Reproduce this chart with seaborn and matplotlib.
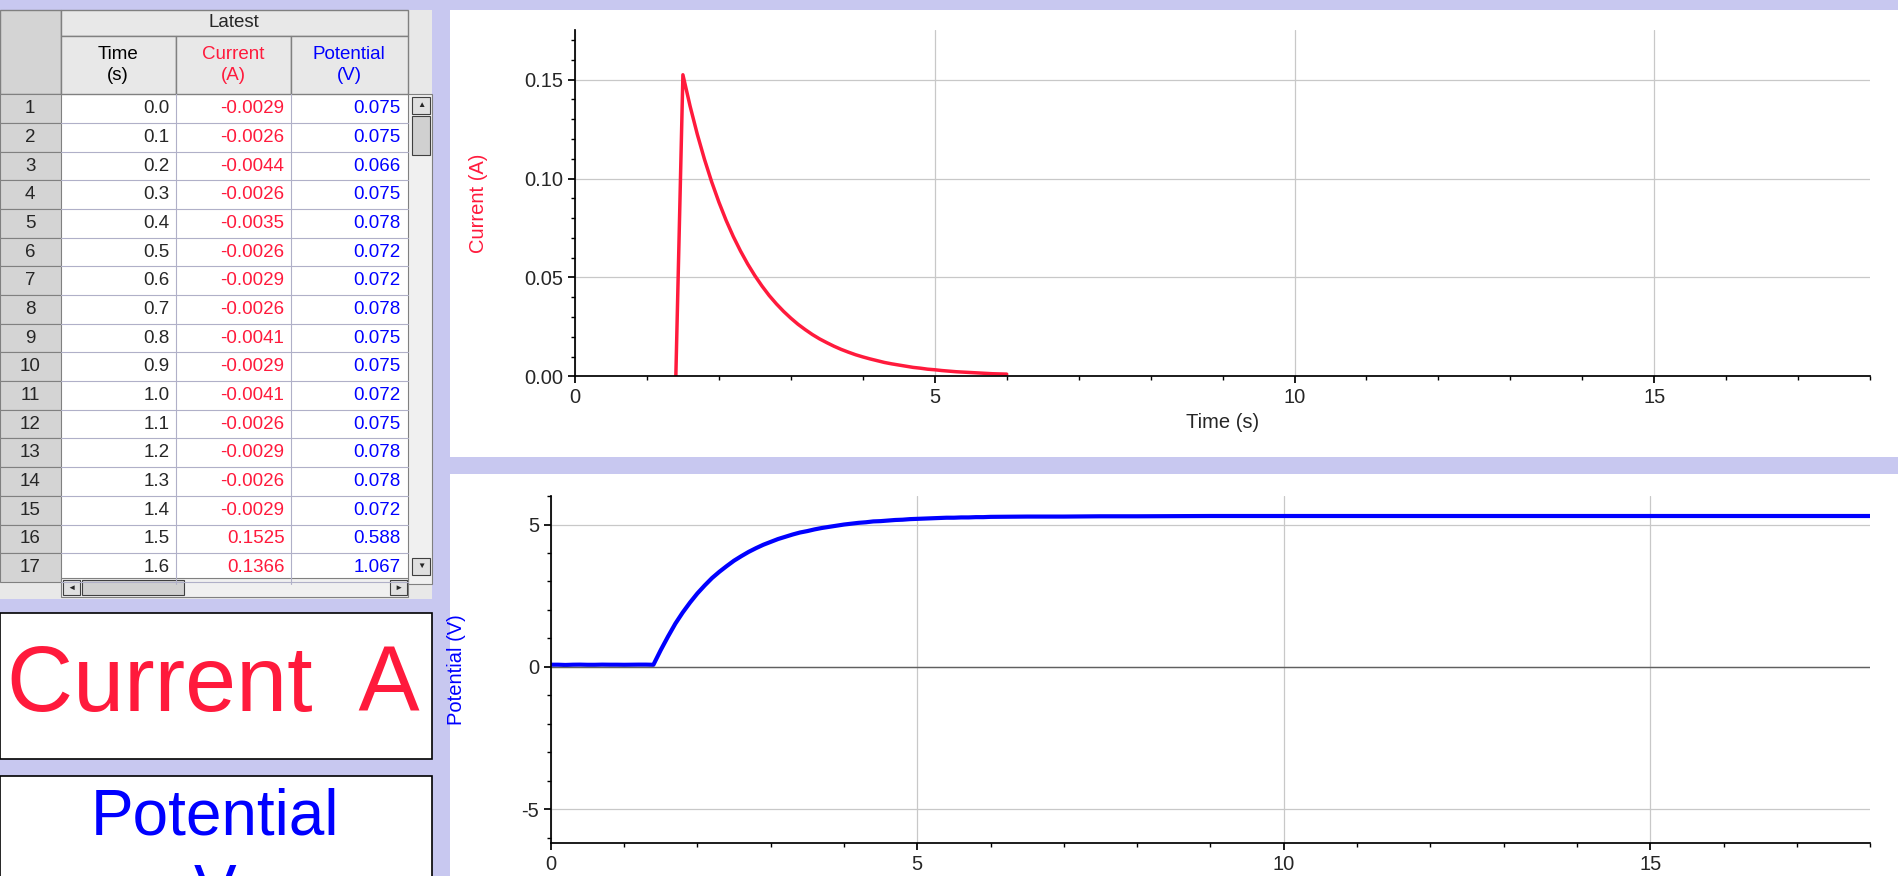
import numpy as np
import matplotlib
matplotlib.use("Agg")
import matplotlib.pyplot as plt
import seaborn as sns
from matplotlib.patches import Rectangle
from matplotlib.ticker import MultipleLocator

sns.set_theme(style="white")
plt.rcParams['font.family'] = ['Liberation Sans', 'DejaVu Sans']
plt.rcParams['axes.unicode_minus'] = False

# ---- data ----
cur_time = [0.0,0.1,0.2,0.3,0.4,0.5,0.6,0.7,0.8,0.9,1.0,1.1,1.2,1.3,1.4,
            1.5,1.6,1.7,1.8,1.9,2.0,2.1,2.2,2.3,2.4,2.5,2.6,2.7,2.8,2.9,3.0,
            3.1,3.2,3.3,3.4,3.5,3.6,3.7,3.8,3.9,4.0,4.1,4.2,4.3,4.4,4.5,
            4.6,4.7,4.8,4.9,5.0,5.1,5.2,5.3,5.4,5.5,5.6,5.7,5.8,5.9,6.0]
current = [-0.0029,-0.0026,-0.0044,-0.0026,-0.0035,-0.0026,-0.0029,-0.0026,-0.0041,-0.0029,
           -0.0041,-0.0026,-0.0029,-0.0026,-0.0029,
           0.1525,0.1366,0.1224,0.1097,0.0983,0.0881,0.0789,0.0707,0.0634,0.0568,0.0509,
           0.0456,0.0408,0.0366,0.0328,0.0294,0.0263,0.0236,0.0211,0.0189,0.0170,
           0.0152,0.0136,0.0122,0.0109,0.0098,0.0088,0.0079,0.0070,0.0063,0.0057,
           0.0051,0.0045,0.0041,0.0036,0.0033,0.0029,0.0026,0.0023,0.0021,0.0019,
           0.0017,0.0015,0.0013,0.0012,0.0011]
pot_time = cur_time + [6.5,7.0,7.5,8.0,9.0,10.0,11.0,12.0,13.0,14.0,15.0,16.0,17.0,18.0]
potential = [0.075,0.075,0.066,0.075,0.078,0.072,0.072,0.078,0.075,0.075,0.072,0.075,0.078,0.078,0.072,
             0.588,1.067,1.52,1.91,2.26,2.58,2.86,3.12,3.34,3.54,3.73,3.89,4.04,4.17,4.29,4.39,
             4.49,4.57,4.65,4.72,4.77,4.83,4.88,4.92,4.96,5.00,5.03,5.06,5.08,5.11,5.12,
             5.14,5.16,5.17,5.19,5.20,5.21,5.22,5.23,5.24,5.24,5.25,5.25,5.26,5.26,5.27,
             5.28,5.28,5.29,5.29,5.30,5.30,5.30,5.30,5.30,5.30,5.30,5.30,5.30,5.30]
tbl_time = ["0.0","0.1","0.2","0.3","0.4","0.5","0.6","0.7","0.8","0.9","1.0","1.1","1.2","1.3","1.4","1.5","1.6"]
tbl_current = ["-0.0029","-0.0026","-0.0044","-0.0026","-0.0035","-0.0026","-0.0029","-0.0026","-0.0041",
               "-0.0029","-0.0041","-0.0026","-0.0029","-0.0026","-0.0029","0.1525","0.1366"]
tbl_potential = ["0.075","0.075","0.066","0.075","0.078","0.072","0.072","0.078","0.075","0.075",
                 "0.072","0.075","0.078","0.078","0.072","0.588","1.067"]

RED = "#ff1a3c"
BLUE = "#0000ff"
BG = "#c8c8f0"

W, H = 1568, 724
fig = plt.figure(figsize=(18.98, 8.76), dpi=100)
fig.patch.set_facecolor(BG)
bg = fig.add_axes([0, 0, 1, 1])
bg.set_xlim(0, W); bg.set_ylim(H, 0); bg.axis("off")

def rect(x0, y0, x1, y1, fc="white", ec="none", lw=1, z=1):
    bg.add_patch(Rectangle((x0, y0), x1 - x0, y1 - y0, facecolor=fc, edgecolor=ec, lw=lw, zorder=z))

rect(372, 8, 1568, 378)
rect(372, 392, 1568, 724)
rect(0, 8, 357, 495, fc="#e8e8e8")
rect(50, 78, 337, 483, fc="white")
rect(0, 8, 50, 78, fc="#d4d4d4", ec="#808080")
rect(50, 8, 337, 30, fc="#e8e8e8", ec="#808080")
bg.text(193, 19, "Latest", ha="center", va="center", fontsize=13.5)
cols = [(50, 145, "Time\n(s)", "black"), (145, 240, "Current\n(A)", RED), (240, 337, "Potential\n(V)", BLUE)]
for x0, x1, lab, c in cols:
    rect(x0, 30, x1, 78, fc="#e8e8e8", ec="#808080")
    bg.text((x0 + x1) / 2, 54, lab, ha="center", va="center", fontsize=13.5, color=c, linespacing=1.3)
rh = 23.7
for i in range(17):
    y0 = 78 + i * rh
    y1 = min(y0 + rh, 483)
    rect(0, y0, 50, y1, fc="#d4d4d4", ec="#808080", lw=0.8)
    bg.plot([50, 337], [y1, y1], color="#b0b0c8", lw=0.8, zorder=2)
    yc = y0 + rh / 2
    bg.text(25, yc, str(i + 1), ha="center", va="center", fontsize=13.5, clip_on=True)
    if yc < 480:
        bg.text(140, yc, tbl_time[i], ha="right", va="center", fontsize=13.5)
        bg.text(235, yc, tbl_current[i], ha="right", va="center", fontsize=13.5, color=RED)
        bg.text(331, yc, tbl_potential[i], ha="right", va="center", fontsize=13.5, color=BLUE)
for xv in [145, 240]:
    bg.plot([xv, xv], [78, 483], color="#b0b0c8", lw=0.8, zorder=2)
rect(337, 78, 357, 483, fc="#f0f0f0", ec="#808080", lw=0.8)
rect(340, 80, 355, 94, fc="#e0e0e0", ec="#404040", lw=0.8)
rect(340, 96, 355, 128, fc="#d0d0d0", ec="#404040", lw=0.8)
rect(340, 461, 355, 475, fc="#e0e0e0", ec="#404040", lw=0.8)
rect(50, 478, 337, 493, fc="#f0f0f0", ec="#808080", lw=0.8)
rect(52, 479, 66, 492, fc="#e0e0e0", ec="#404040", lw=0.8)
rect(68, 479, 152, 492, fc="#d0d0d0", ec="#404040", lw=0.8)
rect(322, 479, 336, 492, fc="#e0e0e0", ec="#404040", lw=0.8)
bg.text(348, 87, "▲", ha="center", va="center", fontsize=6)
bg.text(348, 468, "▼", ha="center", va="center", fontsize=6)
bg.text(59, 486, "◄", ha="center", va="center", fontsize=6)
bg.text(329, 486, "►", ha="center", va="center", fontsize=6)
rect(0, 507, 357, 627, ec="black", lw=1.2)
bg.text(176, 568, "Current  A", ha="center", va="center", fontsize=66, color=RED)
rect(0, 641, 357, 730, ec="black", lw=1.2)
bg.text(178, 676, "Potential", ha="center", va="center", fontsize=46, color=BLUE)
bg.text(178, 738, "V", ha="center", va="center", fontsize=46, color=BLUE, clip_on=False)

def style(ax):
    ax.set_facecolor("white")
    ax.grid(True, color="#c8c8c8", lw=0.9)
    for s in ax.spines.values():
        s.set_visible(False)
    ax.spines["left"].set_visible(True); ax.spines["bottom"].set_visible(True)
    ax.spines["left"].set_color("black"); ax.spines["bottom"].set_color("black")
    ax.tick_params(which="both", direction="out", length=5, color="black", labelsize=14.5,
                   left=True, bottom=True)
    ax.tick_params(which="minor", length=3)
    ax.xaxis.set_major_locator(MultipleLocator(5))
    ax.xaxis.set_minor_locator(MultipleLocator(1))

ax1 = fig.add_axes([475 / W, 1 - 311 / H, 1070 / W, 286 / H])
sns.lineplot(x=cur_time, y=current, ax=ax1, color=RED, lw=2.5)
ax1.set_xlim(0, 18); ax1.set_ylim(0, 0.175)
style(ax1)
ax1.yaxis.set_major_locator(MultipleLocator(0.05))
ax1.yaxis.set_minor_locator(MultipleLocator(0.01))
ax1.yaxis.set_major_formatter(matplotlib.ticker.FormatStrFormatter("%.2f"))
ax1.set_xlabel("Time (s)", fontsize=14.5)
ax1.set_ylabel("Current (A)", fontsize=14.5, color=RED, labelpad=26)

ax2 = fig.add_axes([455 / W, 1 - 697 / H, 1090 / W, 287 / H])
sns.lineplot(x=pot_time, y=potential, ax=ax2, color=BLUE, lw=3)
ax2.set_xlim(0, 18); ax2.set_ylim(-6.2, 6)
style(ax2)
ax2.axhline(0, color="#606060", lw=1)
ax2.yaxis.set_major_locator(MultipleLocator(5))
ax2.yaxis.set_minor_locator(MultipleLocator(1))
ax2.set_ylabel("Potential (V)", fontsize=14.5, color=BLUE, labelpad=40)

fig.savefig("out.png", dpi=100, facecolor=BG)
